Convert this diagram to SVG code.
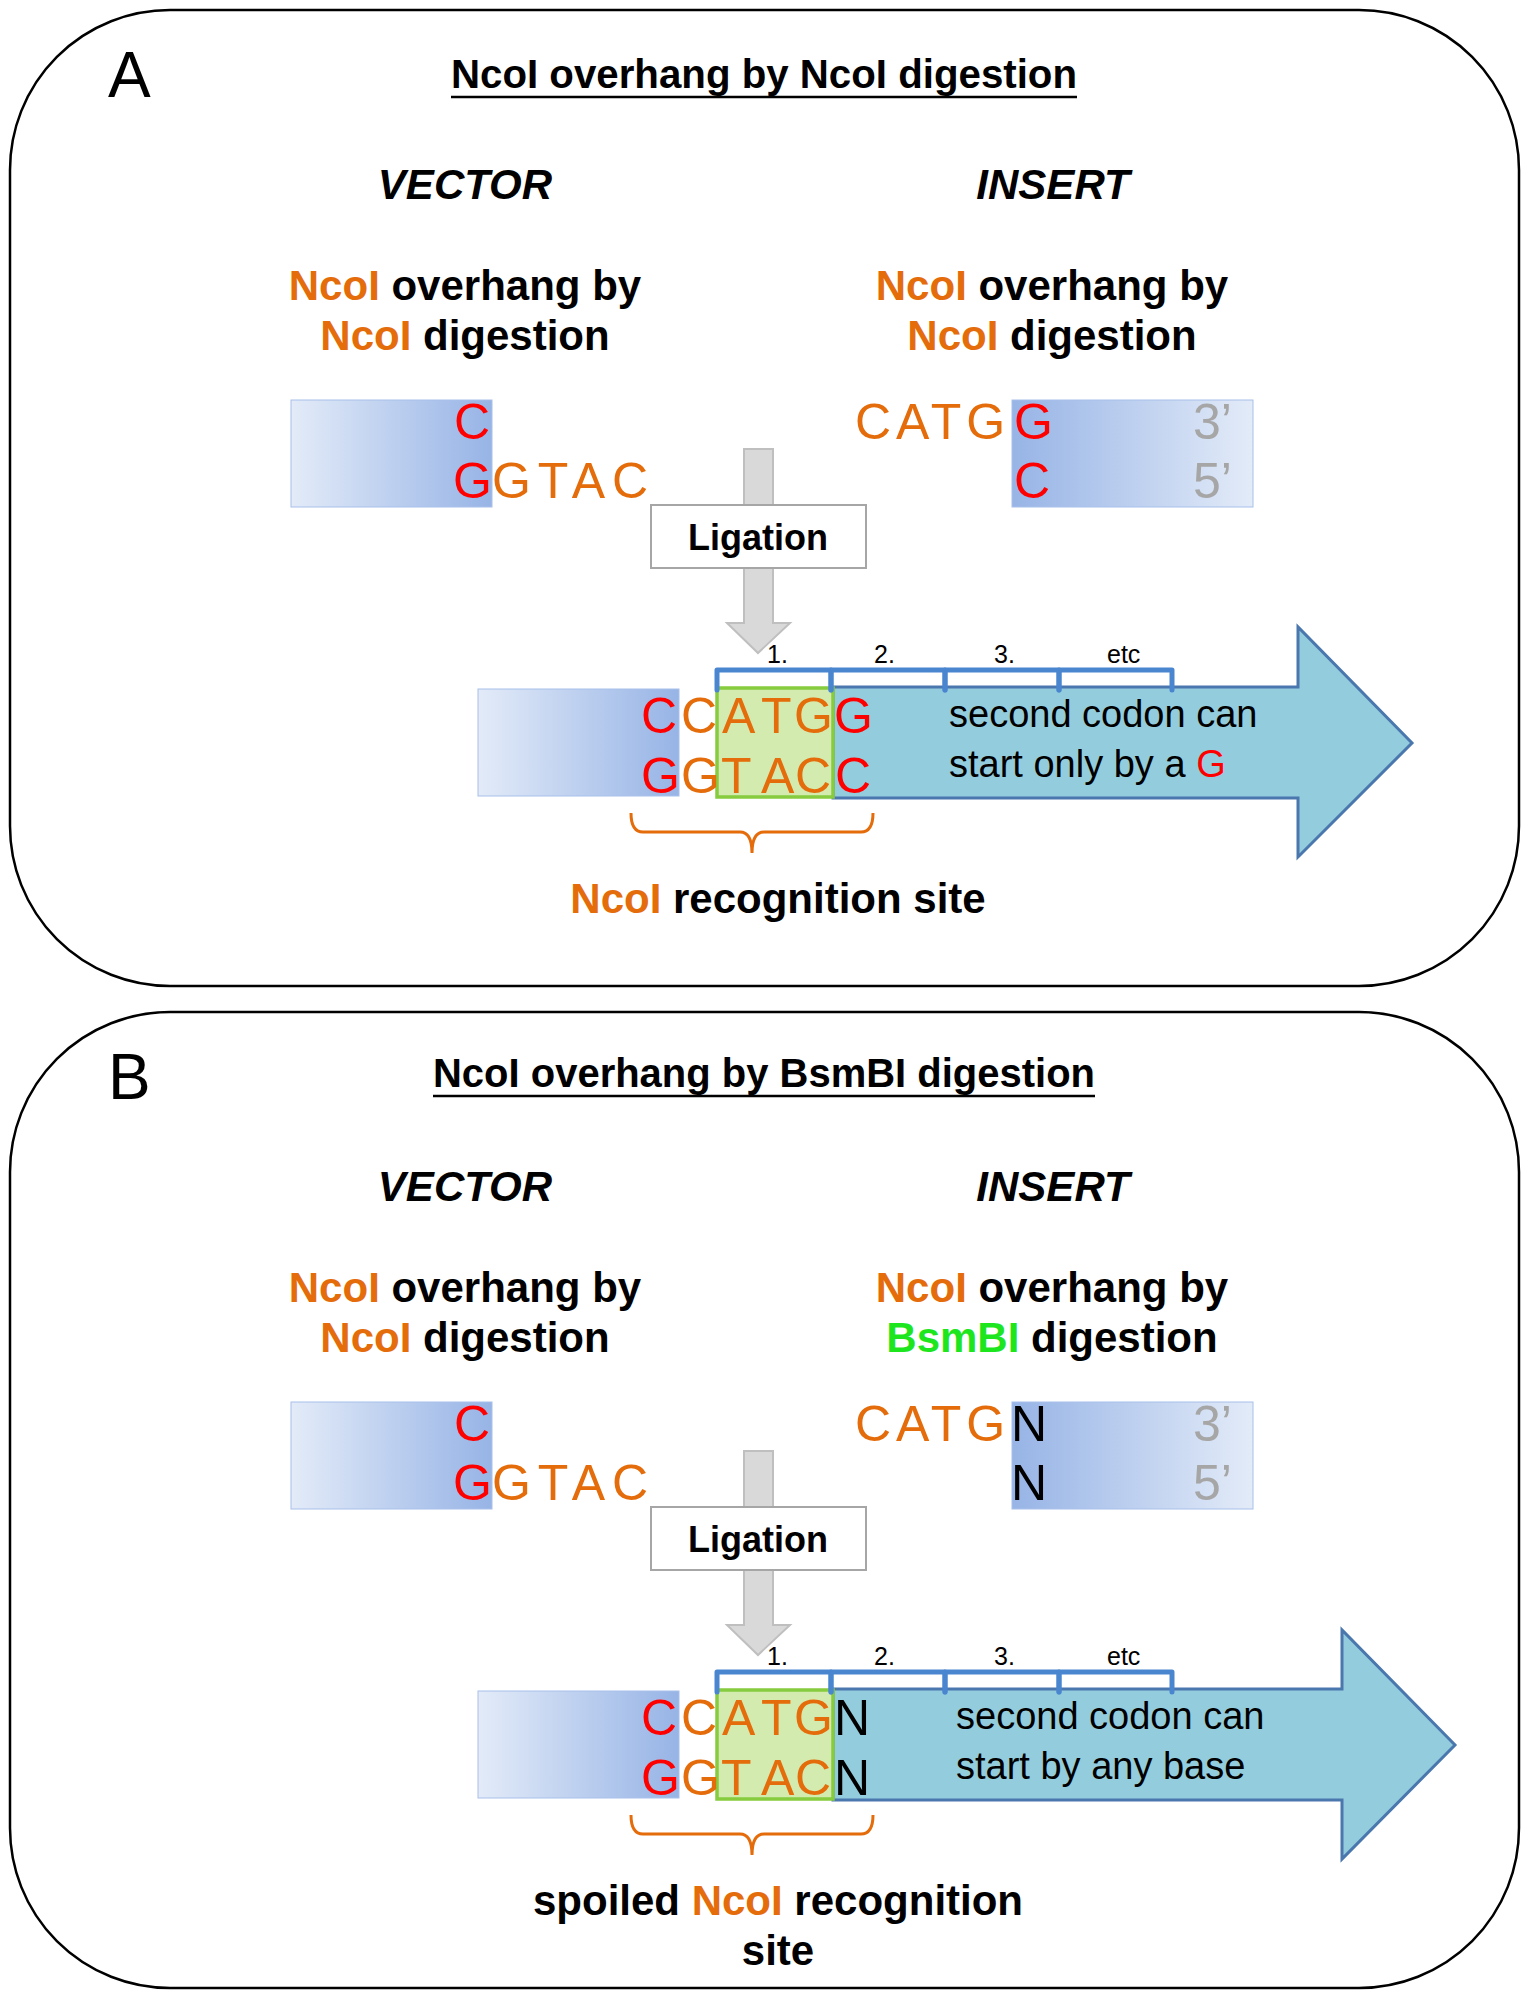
<svg xmlns="http://www.w3.org/2000/svg" width="1531" height="2000" viewBox="0 0 1531 2000">
<defs>
<linearGradient id="vecGrad" x1="0" y1="0" x2="1" y2="0">
<stop offset="0" stop-color="#E3EBF8"/>
<stop offset="1" stop-color="#97B4E6"/>
</linearGradient>
<linearGradient id="insGrad" x1="0" y1="0" x2="1" y2="0">
<stop offset="0" stop-color="#97B4E6"/>
<stop offset="1" stop-color="#E3EBF8"/>
</linearGradient>
<style>
.frame{fill:none;stroke:#000;stroke-width:2.5}
.panelLetter{font-family:"Liberation Sans",Arial,sans-serif;font-size:64px;fill:#000}
.title{font-family:"Liberation Sans",Arial,sans-serif;font-weight:bold;font-size:40px;fill:#000}
.uline{stroke:#000;stroke-width:2.5}
.head{font-family:"Liberation Sans",Arial,sans-serif;font-weight:bold;font-style:italic;font-size:42px;fill:#000;text-anchor:middle}
.lab{font-family:"Liberation Sans",Arial,sans-serif;font-weight:bold;font-size:42px;fill:#000;text-anchor:middle}
.seq{font-family:"Liberation Sans",Arial,sans-serif;font-size:50px}
.o{fill:#E46C0A}
.r{fill:#FF0000}
.k{fill:#000}
.gy{fill:#A6A6A6}
.grn{fill:#1EE61E}
.frag{stroke:#A8C0EA;stroke-width:1}
.ligArrow{fill:#D9D9D9;stroke:#BFBFBF;stroke-width:2}
.ligBox{fill:#fff;stroke:#A6A6A6;stroke-width:2}
.ligText{font-family:"Liberation Sans",Arial,sans-serif;font-weight:bold;font-size:36px;fill:#000;text-anchor:middle}
.orf{fill:#93CDDD;stroke:#4A77AD;stroke-width:3;stroke-linejoin:miter}
.startBox{fill:#D3EBAE;stroke:#86CC3E;stroke-width:3.5}
.codon{fill:none;stroke:#4A86D0;stroke-width:5;stroke-linejoin:round;stroke-linecap:round}
.cnum{font-family:"Liberation Sans",Arial,sans-serif;font-size:25px;fill:#000}
.body{font-family:"Liberation Sans",Arial,sans-serif;font-size:38px;fill:#000}
.brace{fill:none;stroke:#E46C0A;stroke-width:3}
</style>
</defs>

<!-- Panel A -->
<g id="panelA">
<rect class="frame" x="10" y="10" width="1509" height="976" rx="160" ry="160"/>
<text class="panelLetter" x="108" y="97">A</text>
<g id="titleA">
<text class="title" x="451" y="88" textLength="626" lengthAdjust="spacingAndGlyphs">NcoI overhang by NcoI digestion</text>
<line class="uline" x1="451" y1="97" x2="1077" y2="97"/>
</g>
<text id="vectorHeadA" class="head" x="465" y="199">VECTOR</text>
<text id="insertHeadA" class="head" x="1053" y="199">INSERT</text>
<g id="vectorLabelA">
<text class="lab" x="465" y="300"><tspan class="o">NcoI</tspan> overhang by</text>
<text class="lab" x="465" y="350"><tspan class="o">NcoI</tspan> digestion</text>
</g>
<g id="insertLabelA">
<text class="lab" x="1052" y="300"><tspan class="o">NcoI</tspan> overhang by</text>
<text class="lab" x="1052" y="350"><tspan class="o">NcoI</tspan> digestion</text>
</g>
<g id="vectorFragA">
<rect class="frag" x="291" y="400" width="201" height="107" fill="url(#vecGrad)"/>
<text class="seq r" x="454" y="439">C</text>
<text class="seq" x="453" y="498"><tspan class="r">G</tspan><tspan class="o" letter-spacing="7">GTAC</tspan></text>
</g>
<g id="insertFragA">
<rect class="frag" x="1012" y="400" width="241" height="107" fill="url(#insGrad)"/>
<text class="seq" x="855" y="439"><tspan class="o" letter-spacing="5">CATG</tspan><tspan class="r" x="1014">G</tspan></text>
<text class="seq r" x="1014" y="498">C</text>
<text class="seq gy" x="1193" y="439">3’</text>
<text class="seq gy" x="1193" y="498">5’</text>
</g>
<g id="ligationA">
<polygon class="ligArrow" points="744,449 773,449 773,623 790,623 758,653 727,623 744,623"/>
<rect class="ligBox" x="651" y="505" width="215" height="63"/>
<text class="ligText" x="758" y="550">Ligation</text>
</g>
<g id="productA">
<rect class="frag" x="478" y="689" width="201" height="107" fill="url(#vecGrad)"/>
<polygon class="orf" points="833,687 1298,687 1298,627 1412,743 1298,857 1298,798 833,798"/>
<rect class="startBox" x="717" y="688" width="116" height="109"/>
<text class="seq" y="733"><tspan class="r" x="641">C</tspan><tspan class="o" x="681 722 761 794">CATG</tspan><tspan class="r" x="834">G</tspan></text>
<text class="seq" y="793"><tspan class="r" x="641">G</tspan><tspan class="o" x="681 721 761 795">GTAC</tspan><tspan class="r" x="835">C</tspan></text>
<text class="body" x="949" y="727">second codon can</text>
<text class="body" x="949" y="777">start only by a <tspan class="r">G</tspan></text>
</g>
<g id="codonsA">
<path class="codon" d="M717,690 V670 H831 V690"/>
<path class="codon" d="M831,690 V670 H945 V690"/>
<path class="codon" d="M945,690 V670 H1059 V690"/>
<path class="codon" d="M1059,690 V670 H1172 V690"/>
<text class="cnum" x="767" y="663">1.</text>
<text class="cnum" x="874" y="663">2.</text>
<text class="cnum" x="994" y="663">3.</text>
<text class="cnum" x="1107" y="663">etc</text>
</g>
<g id="siteA">
<path class="brace" d="M631,813 Q631,832 643,832 H740 Q752,832 752,853 Q752,832 764,832 H861 Q873,832 873,813"/>
<text class="lab" x="778" y="913"><tspan class="o">NcoI</tspan> recognition site</text>
</g>
</g>

<!-- Panel B -->
<g id="panelB" transform="translate(0,1002)">
<rect class="frame" x="10" y="10" width="1509" height="976" rx="160" ry="160"/>
<text class="panelLetter" x="108" y="97">B</text>
<g id="titleB">
<text class="title" x="433" y="85" textLength="662" lengthAdjust="spacingAndGlyphs">NcoI overhang by BsmBI digestion</text>
<line class="uline" x1="433" y1="94" x2="1095" y2="94"/>
</g>
<text id="vectorHeadB" class="head" x="465" y="199">VECTOR</text>
<text id="insertHeadB" class="head" x="1053" y="199">INSERT</text>
<g id="vectorLabelB">
<text class="lab" x="465" y="300"><tspan class="o">NcoI</tspan> overhang by</text>
<text class="lab" x="465" y="350"><tspan class="o">NcoI</tspan> digestion</text>
</g>
<g id="insertLabelB">
<text class="lab" x="1052" y="300"><tspan class="o">NcoI</tspan> overhang by</text>
<text class="lab" x="1052" y="350"><tspan class="grn">BsmBI</tspan> digestion</text>
</g>
<g id="vectorFragB">
<rect class="frag" x="291" y="400" width="201" height="107" fill="url(#vecGrad)"/>
<text class="seq r" x="454" y="439">C</text>
<text class="seq" x="453" y="498"><tspan class="r">G</tspan><tspan class="o" letter-spacing="7">GTAC</tspan></text>
</g>
<g id="insertFragB">
<rect class="frag" x="1012" y="400" width="241" height="107" fill="url(#insGrad)"/>
<text class="seq" x="855" y="439"><tspan class="o" letter-spacing="5">CATG</tspan><tspan class="k" x="1011">N</tspan></text>
<text class="seq k" x="1011" y="498">N</text>
<text class="seq gy" x="1193" y="439">3’</text>
<text class="seq gy" x="1193" y="498">5’</text>
</g>
<g id="ligationB">
<polygon class="ligArrow" points="744,449 773,449 773,623 790,623 758,653 727,623 744,623"/>
<rect class="ligBox" x="651" y="505" width="215" height="63"/>
<text class="ligText" x="758" y="550">Ligation</text>
</g>
<g id="productB">
<rect class="frag" x="478" y="689" width="201" height="107" fill="url(#vecGrad)"/>
<polygon class="orf" points="833,687 1342,687 1342,628 1455,743 1342,857 1342,798 833,798"/>
<rect class="startBox" x="717" y="688" width="116" height="109"/>
<text class="seq" y="733"><tspan class="r" x="641">C</tspan><tspan class="o" x="681 722 761 794">CATG</tspan><tspan class="k" x="834">N</tspan></text>
<text class="seq" y="793"><tspan class="r" x="641">G</tspan><tspan class="o" x="681 721 761 795">GTAC</tspan><tspan class="k" x="834">N</tspan></text>
<text class="body" x="956" y="727">second codon can</text>
<text class="body" x="956" y="777">start by any base</text>
</g>
<g id="codonsB">
<path class="codon" d="M717,690 V670 H831 V690"/>
<path class="codon" d="M831,690 V670 H945 V690"/>
<path class="codon" d="M945,690 V670 H1059 V690"/>
<path class="codon" d="M1059,690 V670 H1172 V690"/>
<text class="cnum" x="767" y="663">1.</text>
<text class="cnum" x="874" y="663">2.</text>
<text class="cnum" x="994" y="663">3.</text>
<text class="cnum" x="1107" y="663">etc</text>
</g>
<g id="siteB">
<path class="brace" d="M631,813 Q631,832 643,832 H740 Q752,832 752,853 Q752,832 764,832 H861 Q873,832 873,813"/>
<text class="lab" x="778" y="913">spoiled <tspan class="o">NcoI</tspan> recognition</text>
<text class="lab" x="778" y="963">site</text>
</g>
</g>
</svg>
